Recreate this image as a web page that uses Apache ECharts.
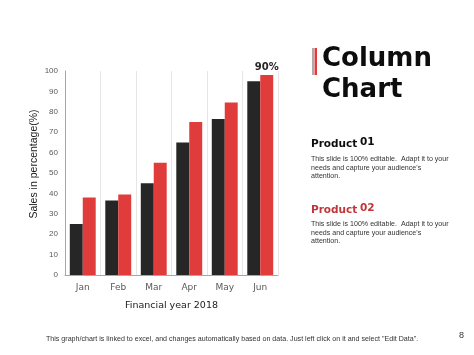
<!DOCTYPE html>
<html><head><meta charset="utf-8">
<script src="https://cdn.jsdelivr.net/npm/echarts@6/dist/echarts.min.js"></script>
<style>html,body{margin:0;padding:0;background:#fff}#c{width:474px;height:355px}</style>
</head><body><div id="c"></div>
<script>
const categories = ['Jan','Feb','Mar','Apr','May','Jun'];
const product01 = [25, 36.5, 45, 65, 76.5, 95];
const product02 = [38, 39.5, 55, 75, 84.5, 98];
const yTicks = [0,10,20,30,40,50,60,70,80,90,100];
const topLabel = '90%';

const chart = echarts.init(document.getElementById('c'), null, {renderer:'canvas'});
const desc = "This slide is 100% editable.  Adapt it to your\nneeds and capture your audience's\nattention.";
chart.setOption({
  animation:false,
  backgroundColor:'#fff',
  grid:{left:65, right:196, top:71, bottom:80},
  xAxis:{
    type:'category', data:categories,
    axisLine:{lineStyle:{color:'#a6a6a6', width:1}},
    axisTick:{show:false},
    axisLabel:{color:'#595959', fontSize:9, fontFamily:'DejaVu Sans', margin:8},
    splitLine:{show:true, lineStyle:{color:'#e6e6e6', width:1}},
    name:'Financial year 2018', nameLocation:'middle', nameGap:26,
    nameTextStyle:{color:'#1a1a1a', fontSize:9.5, fontFamily:'DejaVu Sans'}
  },
  yAxis:{
    type:'value', min:yTicks[0], max:yTicks[yTicks.length-1], interval:10,
    axisLine:{show:true, lineStyle:{color:'#a6a6a6', width:1}},
    axisTick:{show:false},
    splitLine:{show:false},
    axisLabel:{color:'#595959', fontSize:8, fontFamily:'Liberation Sans', margin:7}
  },
  series:[
    {type:'bar', name:'Product 01', data:product01, barGap:'0%', barCategoryGap:'27%',
     itemStyle:{color:'#262626'}},
    {type:'bar', name:'Product 02', data:product02, barGap:'0%', barCategoryGap:'27%',
     itemStyle:{color:'#e03c3c'},
     label:{show:true, position:'top', distance:3, color:'#262626', fontWeight:'bold', fontSize:10, fontFamily:'DejaVu Sans',
       formatter:function(p){return p.dataIndex===categories.length-1?topLabel:'';}}}
  ],
  graphic:[
    {type:'text', x:34, y:164, rotation:Math.PI/2, style:{text:'Sales in percentage(%)', fill:'#1a1a1a', font:'10.5px "Liberation Sans"', align:'center', verticalAlign:'middle'}},
    {type:'rect', shape:{x:312.5, y:48, width:1, height:27}, style:{fill:'#5a5a5a'}},
    {type:'rect', shape:{x:314.5, y:48, width:2.5, height:27}, style:{fill:'#e03c3c'}},
    {type:'text', left:322, top:44, style:{text:'Column\nChart', fill:'#0d0d0d', font:'bold 26px "DejaVu Sans"', lineHeight:31}},
    {type:'text', left:311, top:139, style:{text:'Product', fill:'#0d0d0d', font:'bold 10.5px "DejaVu Sans"'}},
    {type:'text', left:360, top:137, style:{text:'01', fill:'#0d0d0d', font:'bold 10.5px "DejaVu Sans"'}},
    {type:'text', left:311, top:155, style:{text:desc, fill:'#333', font:'7.1px "Liberation Sans"', lineHeight:8.5}},
    {type:'text', left:311, top:205, style:{text:'Product', fill:'#c0353a', font:'bold 10.5px "DejaVu Sans"'}},
    {type:'text', left:360, top:203, style:{text:'02', fill:'#c0353a', font:'bold 10.5px "DejaVu Sans"'}},
    {type:'text', left:311, top:220, style:{text:desc, fill:'#333', font:'7.1px "Liberation Sans"', lineHeight:8.5}},
    {type:'text', left:46, top:336, style:{text:'This graph/chart is linked to excel, and changes automatically based on data. Just left click on it and select "Edit Data".', fill:'#333', font:'7.1px "Liberation Sans"'}},
    {type:'text', left:459, top:331, style:{text:'8', fill:'#333', font:'9px "Liberation Sans"'}}
  ]
});
</script></body></html>
